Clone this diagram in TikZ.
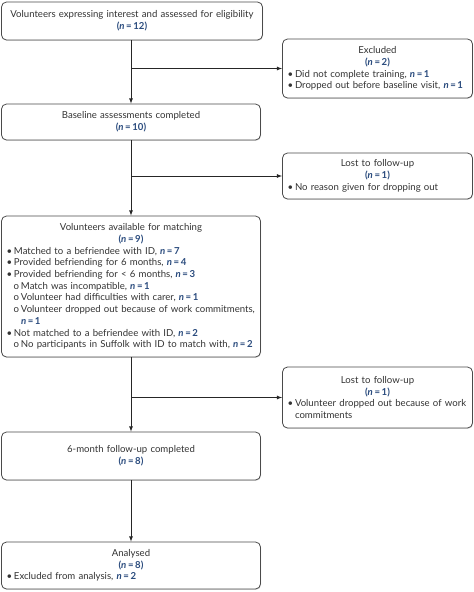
\documentclass[tikz,border=0pt]{standalone}
\usepackage{fontspec}
\setmainfont{Lato}
\usetikzlibrary{arrows,calc,shadows}
\definecolor{nblue}{HTML}{2B4C7E}
\definecolor{txtgray}{HTML}{333333}
\definecolor{boxgray}{HTML}{4A4A4A}
\newcommand{\nv}[1]{\textcolor{nblue}{\textbf{\textit{n}\,=\,#1}}}
\newcommand{\nt}[1]{\textcolor{nblue}{\textbf{(\textit{n}\,=\,#1)}}}
\newcommand{\bul}{\par\hangindent=7.5pt\hangafter=1\makebox[7.5pt][l]{\textbullet}}
\newcommand{\sbul}{\par\hangindent=14.5pt\hangafter=1\hspace*{7pt}\makebox[7.5pt][l]{o}}
\tikzset{
    box/.style = {draw=boxgray, line width=0.8pt, rounded corners=5pt,
        fill=white, text=txtgray, inner xsep=5pt, inner ysep=0pt,
        font=\fontsize{9.6}{11.7}\selectfont,
        drop shadow={shadow xshift=0.6pt, shadow yshift=-0.9pt, opacity=0.25}},
    mainbox/.style = {box, text width=249pt, minimum height=#1},
    sidebox/.style = {box, text width=180pt, minimum height=#1},
    arrow/.style = {draw=black!85, line width=0.8pt, -latex}
}

\begin{document}
\begin{tikzpicture}[x=1pt, y=-1pt]
    \useasboundingbox (0,0) rectangle (474,592);
    % main column
    \node [mainbox=38pt, text width=251pt] (interest) at (132,21)
        {\centering Volunteers expressing interest and assessed for eligibility\\\nt{12}\par};
    \node [mainbox=36pt] (base) at (131,122)
        {\centering Baseline assessments completed\\\nt{10}\par};
    \node [mainbox=141pt] (avail) at (131,286.5)
        {{\centering Volunteers available for matching\\\nt{9}\par}\raggedright
        \bul Matched to a befriendee with ID, \nv{7}
        \bul Provided befriending for 6 months, \nv{4}
        \bul Provided befriending for < 6 months, \nv{3}
        \sbul Match was incompatible, \nv{1}
        \sbul Volunteer had difficulties with carer, \nv{1}
        \sbul Volunteer dropped out because of work commitments,\newline \nv{1}
        \bul Not matched to a befriendee with ID, \nv{2}
        \sbul No participants in Suffolk with ID to match with, \nv{2}\par};
    \node [mainbox=48pt] (six) at (131,456)
        {\centering 6-month follow-up completed\\\nt{8}\par};
    \node [mainbox=47pt] (anal) at (131,565.5)
        {{\centering Analysed\\\nt{8}\par}\raggedright
        \bul Excluded from analysis, \nv{2}\par};
    % side boxes
    \node [sidebox=59pt] (excl) at (377.5,68.5)
        {{\centering Excluded\\\nt{2}\par}\raggedright
        \bul Did not complete training, \nv{1}
        \bul Dropped out before baseline visit, \nv{1}\par};
    \node [sidebox=46pt] (lost1) at (377.5,176)
        {{\centering Lost to follow-up\\\nt{1}\par}\raggedright
        \bul No reason given for dropping out\par};
    \node [sidebox=61pt] (lost2) at (377.5,397.5)
        {{\centering Lost to follow-up\\\nt{1}\par}\raggedright
        \bul Volunteer dropped out because of work\newline commitments\par};
    % connectors
    \draw [arrow] (base.south) -- (avail.north);
    \draw [arrow] (avail.south) -- (six.north);
    \draw [arrow] (six.south) -- (anal.north);
    \draw [arrow] (interest.south -| base.north) -- (base.north);
    \draw [arrow] (excl.west -| base.north) -- (excl.west);
    \draw [arrow] (lost1.west -| base.south) -- (lost1.west);
    \draw [arrow] (lost2.west -| avail.south) -- (lost2.west);
\end{tikzpicture}
\end{document}
